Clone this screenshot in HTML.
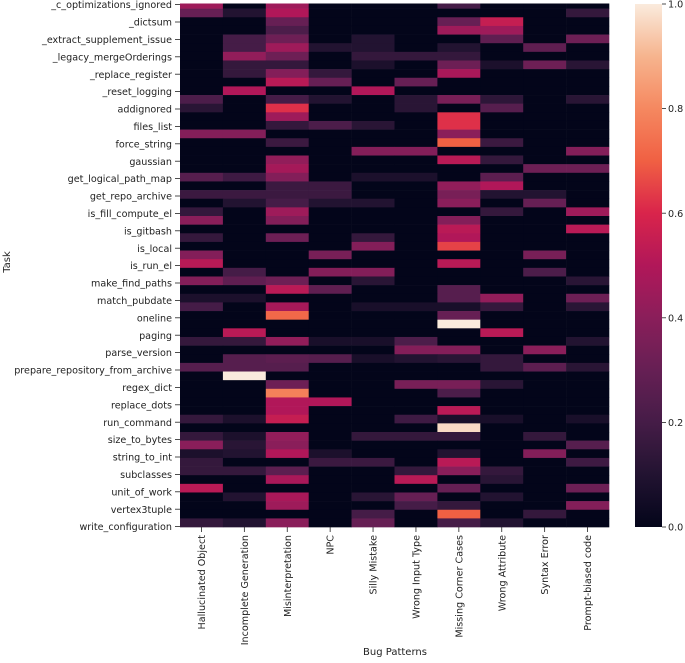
<!DOCTYPE html>
<html><head><meta charset="utf-8"><style>
html,body{margin:0;padding:0;background:#fff;}
svg text{font-family:"DejaVu Sans","Liberation Sans",sans-serif;fill:#222;}
</style></head><body>
<svg id="chart" width="685" height="658" xmlns="http://www.w3.org/2000/svg">
<defs><linearGradient id="cbg" x1="0" y1="1" x2="0" y2="0"></linearGradient></defs>
<g id="cells"></g>
<rect x="150" y="0" width="520" height="3.5" fill="#fff"/>
<g id="ylab"></g>
<g id="xlab"></g>
<text x="395" y="655" font-size="10" text-anchor="middle">Bug Patterns</text>
<text x="10" y="262" font-size="10" text-anchor="middle" transform="rotate(-90 10 262)">Task</text>
<rect x="635" y="4" width="27" height="523" fill="url(#cbg)"/>
<g id="cbt"></g>
</svg>
<script>
const categories=["Hallucinated Object","Incomplete Generation","Misinterpretation","NPC","Silly Mistake","Wrong Input Type","Missing Corner Cases","Wrong Attribute","Syntax Error","Prompt-biased code"];
const taskLabels=["_c_optimizations_ignored","_dictsum","_extract_supplement_issue","_legacy_mergeOrderings","_replace_register","_reset_logging","addignored","files_list","force_string","gaussian","get_logical_path_map","get_repo_archive","is_fill_compute_el","is_gitbash","is_local","is_run_el","make_find_paths","match_pubdate","oneline","paging","parse_version","prepare_repository_from_archive","regex_dict","replace_dots","run_command","size_to_bytes","string_to_int","subclasses","unit_of_work","vertex3tuple","write_configuration"];
const colorTicks=[0,0.2,0.4,0.6,0.8,1.0];
const values=[
[.45,0,.45,0,0,0,.2,0,0,0],
[.3,.1,.5,0,0,0,0,0,0,.15],
[0,0,.3,0,0,0,.3,.55,0,0],
[0,0,.22,0,0,0,.45,.45,0,0],
[0,.2,.32,0,.1,0,0,.28,0,.32],
[0,.2,.45,.1,.1,0,.1,0,.28,0],
[0,.42,.32,0,.15,.15,.15,0,0,0],
[0,.15,.15,0,.08,0,.32,.08,.32,.12],
[0,.15,.38,.15,0,0,.48,0,0,0],
[0,0,.52,.3,0,.3,0,0,0,0],
[0,.5,0,0,.5,0,0,0,0,0],
[.22,0,.2,.1,0,.12,.35,.13,0,.12],
[.12,0,.62,0,0,.12,0,.25,0,0],
[0,0,.45,0,0,0,.62,0,0,0],
[0,0,.15,.22,.12,0,.62,0,0,0],
[.38,.38,0,0,0,0,.4,0,0,0],
[0,0,.17,0,0,0,.7,.17,0,0],
[0,0,0,0,.38,.38,0,0,0,.38],
[0,0,.42,0,0,0,.52,.15,0,0],
[0,0,.47,0,0,0,0,0,.32,.32],
[.25,.18,.38,0,.08,.08,0,.27,0,0],
[0,0,.17,.17,0,0,.42,.5,0,0],
[.17,.17,.17,.17,0,0,.35,.1,.1,0],
[0,.1,.2,.1,.1,0,.4,0,.3,0],
[.15,0,.45,0,0,0,0,.15,0,.45],
[.4,0,.38,0,0,0,.38,0,0,0],
[0,0,0,0,0,0,.52,0,0,.52],
[.15,0,.32,0,.15,0,.5,0,0,0],
[0,0,0,0,.38,0,.65,0,0,0],
[.38,0,0,.35,0,0,0,0,.35,0],
[.52,0,0,0,0,0,.52,0,0,0],
[0,.2,0,.38,.38,0,0,0,.22,0],
[.38,.28,.32,0,.12,0,0,0,0,.12],
[0,0,.52,.28,0,0,.25,0,0,0],
[.08,.08,0,0,0,0,.25,.42,0,.32],
[.2,0,.47,0,.07,.07,.07,.15,0,.12],
[0,0,.72,0,0,0,.3,0,0,0],
[0,0,0,0,0,0,1.0,0,0,0],
[0,.52,0,0,0,0,0,.52,0,0],
[.15,.15,.42,.07,.07,.22,0,0,0,.1],
[0,0,0,0,0,.38,.38,0,.4,0],
[0,.25,.27,.25,.07,.1,.12,.15,0,0],
[.25,.25,.25,0,0,0,0,.15,.27,.12],
[0,1.0,0,0,0,0,0,0,0,0],
[0,0,.32,0,0,.35,.35,.12,0,0],
[0,0,.78,0,0,0,.22,0,0,0],
[0,0,.5,.5,0,0,0,0,0,0],
[0,0,.5,0,0,0,.52,0,0,0],
[.15,.08,.55,0,0,.18,.07,.07,0,.07],
[0,0,0,0,0,0,.97,0,0,0],
[.15,.08,.42,0,.15,.15,.15,0,.15,0],
[.4,.12,.4,0,0,0,0,0,0,.25],
[.08,.1,.5,.08,0,0,.1,0,.38,0],
[.15,0,0,.17,.17,0,.52,0,0,.18],
[.15,.15,.27,0,0,.15,.4,.15,0,0],
[0,0,.48,0,0,.52,0,.12,0,0],
[.52,0,0,0,0,0,.3,0,0,.32],
[0,.1,.48,0,.12,.3,0,.1,0,0],
[0,0,.45,0,0,.2,.15,0,0,.38],
[0,0,0,0,.2,0,.7,0,.15,0],
[.15,.1,.4,0,.3,0,.2,.1,0,0]
];
const stops=[[0,[3,5,26]],[.1,[34,19,49]],[.2,[69,28,71]],[.3,[102,31,84]],[.4,[138,30,90]],[.5,[177,23,89]],[.6,[217,36,75]],[.7,[240,96,67]],[.8,[245,136,96]],[.9,[246,180,142]],[1,[250,235,221]]];
function cmap(v){v=Math.max(0,Math.min(1,v));for(let i=1;i<stops.length;i++){if(v<=stops[i][0]){const a=stops[i-1],b=stops[i],t=(v-a[0])/(b[0]-a[0]);return 'rgb('+a[1].map((c,k)=>Math.round(c+(b[1][k]-c)*t)).join(',')+')';}}return 'rgb(250,235,221)';}
const NS='http://www.w3.org/2000/svg';
const X0=180,X1=609,Y0=0,RH=8.64;
const CW=(X1-X0)/categories.length;
const xPos=c=>X0+c*CW;
const yPos=r=>Y0+r*RH;
function mk(t,a){const e=document.createElementNS(NS,t);for(const k in a)e.setAttribute(k,a[k]);return e;}
const cells=document.getElementById('cells');
values.forEach((row,r)=>row.forEach((v,c)=>{
  const e=mk('rect',{x:xPos(c),y:yPos(r),width:CW+0.3,height:RH+0.3,fill:cmap(v)});
  
  
  cells.appendChild(e);
}));
const ylab=document.getElementById('ylab');
taskLabels.forEach((t,i)=>{
  const y=4.6+i*((526.6-4.6)/(taskLabels.length-1));
  const tk=mk('line',{x1:175,x2:180,y1:y,y2:y,stroke:'#222','stroke-width':0.8});
  
  
  ylab.appendChild(tk);
  const e=mk('text',{x:172,y:y+3.6,'font-size':9.6,'text-anchor':'end'});
  e.textContent=t;
  
  
  ylab.appendChild(e);
});
const xlab=document.getElementById('xlab');
categories.forEach((t,c)=>{
  const x=xPos(c)+CW/2;
  const tk=mk('line',{x1:x,x2:x,y1:527,y2:532,stroke:'#222','stroke-width':0.8});
  
  
  xlab.appendChild(tk);
  const e=mk('text',{x:x+3.5,y:535,'font-size':9.6,'text-anchor':'end',transform:'rotate(-90 '+(x+3.5)+' 535)'});
  e.textContent=t;
  
  
  xlab.appendChild(e);
});
const g=document.getElementById('cbg');
for(let i=0;i<=20;i++){const s=mk('stop',{offset:(i/20),'stop-color':cmap(i/20)});g.appendChild(s);}
const cbt=document.getElementById('cbt');
colorTicks.forEach(v=>{
  const y=527-v*523;
  const tk=mk('line',{x1:662,x2:666,y1:y,y2:y,stroke:'#222','stroke-width':0.8});
  
  
  cbt.appendChild(tk);
  const e=mk('text',{x:668,y:y+3.6,'font-size':9.6});
  e.textContent=v.toFixed(1);
  
  
  cbt.appendChild(e);
});
</script>
</body></html>
